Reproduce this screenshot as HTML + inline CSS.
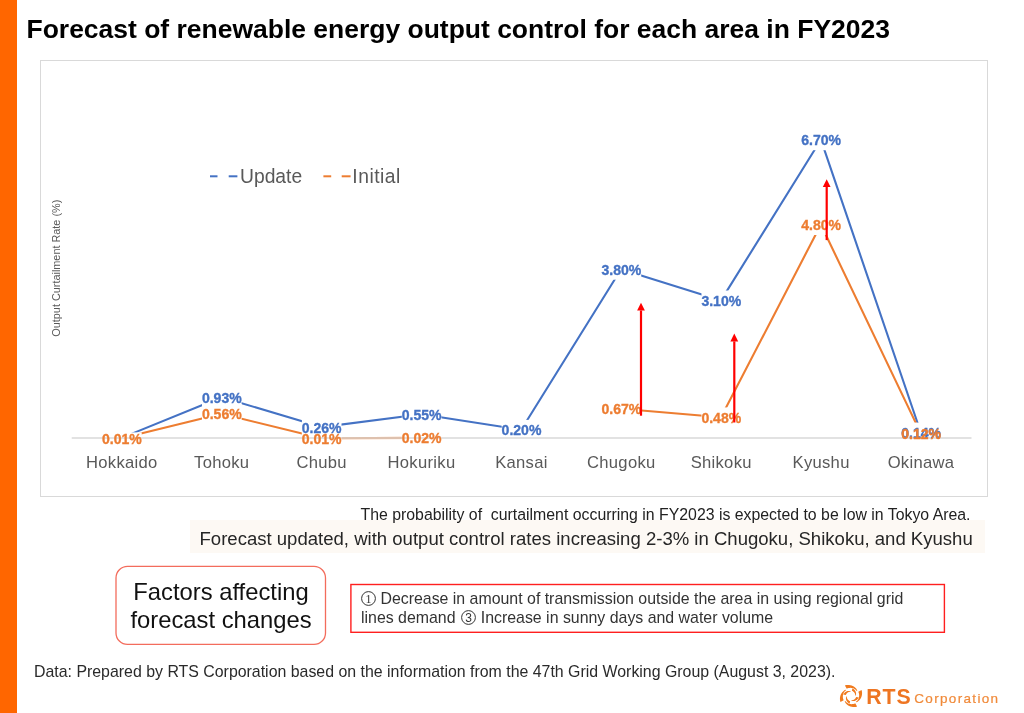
<!DOCTYPE html>
<html><head><meta charset="utf-8"><style>
html,body{margin:0;padding:0;width:1024px;height:713px;overflow:hidden;background:#fff;font-family:"Liberation Sans",sans-serif;}
#w{position:absolute;left:0;top:0;width:1024px;height:713px;will-change:transform;}
.a{position:absolute;white-space:pre;line-height:1;}
</style></head><body><div id="w">
<div class="a" style="left:0;top:0;width:17px;height:713px;background:#FF6600"></div>
<div class="a" style="left:40px;top:60px;width:946px;height:435px;border:1px solid #D9D9D9"></div>
<div class="a" style="left:26.5px;top:15.5px;font-size:26.48px;font-weight:bold;color:#000">Forecast of renewable energy output control for each area in FY2023</div>
<svg width="1024" height="713" style="position:absolute;left:0;top:0">
<polyline points="121.6,437.9 221.5,397.2 321.4,427.1 421.3,414.2 521.2,429.8 621.1,269.2 721.0,300.4 820.9,139.7 920.8,432.5" fill="none" stroke="#4472C4" stroke-width="2.1" stroke-linejoin="round"/>
<polyline points="121.6,438.3 221.5,413.8 321.4,438.3 421.3,437.9" fill="none" stroke="#ED7D31" stroke-width="2.1" stroke-linejoin="round"/>
<polyline points="621.1,408.8 721.0,417.3 820.9,224.5 920.8,433.4" fill="none" stroke="#ED7D31" stroke-width="2.1" stroke-linejoin="round"/>
<rect x="202.0" y="387.3" width="39.6" height="20.4" fill="#fff"/>
<rect x="301.9" y="417.2" width="39.6" height="20.4" fill="#fff"/>
<rect x="401.8" y="404.3" width="39.6" height="20.4" fill="#fff"/>
<rect x="501.7" y="419.9" width="39.6" height="20.4" fill="#fff"/>
<rect x="601.6" y="259.3" width="39.6" height="20.4" fill="#fff"/>
<rect x="701.5" y="290.5" width="39.6" height="20.4" fill="#fff"/>
<rect x="801.4" y="129.8" width="39.6" height="20.4" fill="#fff"/>
<rect x="901.3" y="422.6" width="39.6" height="20.4" fill="#fff"/>
<rect x="102.1" y="432.4" width="39.6" height="16.4" fill="#fff"/>
<rect x="202.0" y="403.9" width="39.6" height="20.4" fill="#fff"/>
<rect x="301.9" y="428.4" width="39.6" height="20.4" fill="#fff"/>
<rect x="401.8" y="428.0" width="39.6" height="20.4" fill="#fff"/>
<rect x="601.6" y="398.9" width="39.6" height="20.4" fill="#fff"/>
<rect x="701.5" y="407.4" width="39.6" height="20.4" fill="#fff"/>
<rect x="801.4" y="214.6" width="39.6" height="20.4" fill="#fff"/>
<rect x="901.3" y="423.5" width="39.6" height="20.4" fill="#fff"/>
<line x1="71.7" y1="438" x2="971.5" y2="438" stroke="#D9D9D9" stroke-width="1.3"/>
<text x="221.8" y="402.7" fill="#4472C4" text-anchor="middle" font-family="Liberation Sans" font-weight="bold" font-size="14.5" textLength="39.8" lengthAdjust="spacingAndGlyphs" stroke="#4472C4" stroke-width="0.35">0.93%</text>
<text x="321.7" y="432.6" fill="#4472C4" text-anchor="middle" font-family="Liberation Sans" font-weight="bold" font-size="14.5" textLength="39.8" lengthAdjust="spacingAndGlyphs" stroke="#4472C4" stroke-width="0.35">0.26%</text>
<text x="421.6" y="419.7" fill="#4472C4" text-anchor="middle" font-family="Liberation Sans" font-weight="bold" font-size="14.5" textLength="39.8" lengthAdjust="spacingAndGlyphs" stroke="#4472C4" stroke-width="0.35">0.55%</text>
<text x="521.5" y="435.3" fill="#4472C4" text-anchor="middle" font-family="Liberation Sans" font-weight="bold" font-size="14.5" textLength="39.8" lengthAdjust="spacingAndGlyphs" stroke="#4472C4" stroke-width="0.35">0.20%</text>
<text x="621.4" y="274.7" fill="#4472C4" text-anchor="middle" font-family="Liberation Sans" font-weight="bold" font-size="14.5" textLength="39.8" lengthAdjust="spacingAndGlyphs" stroke="#4472C4" stroke-width="0.35">3.80%</text>
<text x="721.3" y="305.9" fill="#4472C4" text-anchor="middle" font-family="Liberation Sans" font-weight="bold" font-size="14.5" textLength="39.8" lengthAdjust="spacingAndGlyphs" stroke="#4472C4" stroke-width="0.35">3.10%</text>
<text x="821.2" y="145.2" fill="#4472C4" text-anchor="middle" font-family="Liberation Sans" font-weight="bold" font-size="14.5" textLength="39.8" lengthAdjust="spacingAndGlyphs" stroke="#4472C4" stroke-width="0.35">6.70%</text>
<text x="921.1" y="438.0" fill="#4472C4" text-anchor="middle" font-family="Liberation Sans" font-weight="bold" font-size="14.5" textLength="39.8" lengthAdjust="spacingAndGlyphs" stroke="#4472C4" stroke-width="0.35">0.14%</text>
<text x="121.9" y="443.8" fill="#ED7D31" text-anchor="middle" font-family="Liberation Sans" font-weight="bold" font-size="14.5" textLength="39.8" lengthAdjust="spacingAndGlyphs" stroke="#ED7D31" stroke-width="0.35">0.01%</text>
<text x="221.8" y="419.3" fill="#ED7D31" text-anchor="middle" font-family="Liberation Sans" font-weight="bold" font-size="14.5" textLength="39.8" lengthAdjust="spacingAndGlyphs" stroke="#ED7D31" stroke-width="0.35">0.56%</text>
<text x="321.7" y="443.8" fill="#ED7D31" text-anchor="middle" font-family="Liberation Sans" font-weight="bold" font-size="14.5" textLength="39.8" lengthAdjust="spacingAndGlyphs" stroke="#ED7D31" stroke-width="0.35">0.01%</text>
<text x="421.6" y="443.4" fill="#ED7D31" text-anchor="middle" font-family="Liberation Sans" font-weight="bold" font-size="14.5" textLength="39.8" lengthAdjust="spacingAndGlyphs" stroke="#ED7D31" stroke-width="0.35">0.02%</text>
<text x="621.4" y="414.3" fill="#ED7D31" text-anchor="middle" font-family="Liberation Sans" font-weight="bold" font-size="14.5" textLength="39.8" lengthAdjust="spacingAndGlyphs" stroke="#ED7D31" stroke-width="0.35">0.67%</text>
<text x="721.3" y="422.8" fill="#ED7D31" text-anchor="middle" font-family="Liberation Sans" font-weight="bold" font-size="14.5" textLength="39.8" lengthAdjust="spacingAndGlyphs" stroke="#ED7D31" stroke-width="0.35">0.48%</text>
<text x="821.2" y="230.0" fill="#ED7D31" text-anchor="middle" font-family="Liberation Sans" font-weight="bold" font-size="14.5" textLength="39.8" lengthAdjust="spacingAndGlyphs" stroke="#ED7D31" stroke-width="0.35">4.80%</text>
<text x="921.1" y="438.9" fill="#ED7D31" text-anchor="middle" font-family="Liberation Sans" font-weight="bold" font-size="14.5" textLength="39.8" lengthAdjust="spacingAndGlyphs" stroke="#ED7D31" stroke-width="0.35">0.12%</text>
<text x="121.8" y="468" fill="#595959" text-anchor="middle" font-family="Liberation Sans" font-size="16.6" letter-spacing="0.3">Hokkaido</text>
<text x="221.7" y="468" fill="#595959" text-anchor="middle" font-family="Liberation Sans" font-size="16.6" letter-spacing="0.3">Tohoku</text>
<text x="321.6" y="468" fill="#595959" text-anchor="middle" font-family="Liberation Sans" font-size="16.6" letter-spacing="0.3">Chubu</text>
<text x="421.5" y="468" fill="#595959" text-anchor="middle" font-family="Liberation Sans" font-size="16.6" letter-spacing="0.3">Hokuriku</text>
<text x="521.4" y="468" fill="#595959" text-anchor="middle" font-family="Liberation Sans" font-size="16.6" letter-spacing="0.3">Kansai</text>
<text x="621.3" y="468" fill="#595959" text-anchor="middle" font-family="Liberation Sans" font-size="16.6" letter-spacing="0.3">Chugoku</text>
<text x="721.2" y="468" fill="#595959" text-anchor="middle" font-family="Liberation Sans" font-size="16.6" letter-spacing="0.3">Shikoku</text>
<text x="821.1" y="468" fill="#595959" text-anchor="middle" font-family="Liberation Sans" font-size="16.6" letter-spacing="0.3">Kyushu</text>
<text x="921.0" y="468" fill="#595959" text-anchor="middle" font-family="Liberation Sans" font-size="16.6" letter-spacing="0.3">Okinawa</text>
<line x1="641" y1="415.7" x2="641" y2="310.5" stroke="#FF0000" stroke-width="2.2"/><polygon points="641,302.8 637.1,310.5 644.9,310.5" fill="#FF0000"/>
<line x1="734.3" y1="422.5" x2="734.3" y2="341.4" stroke="#FF0000" stroke-width="2.2"/><polygon points="734.3,333.6 730.4,341.4 738.1999999999999,341.4" fill="#FF0000"/>
<line x1="826.7" y1="240.1" x2="826.7" y2="187" stroke="#FF0000" stroke-width="2.2"/><polygon points="826.7,179.2 822.8000000000001,187 830.6,187" fill="#FF0000"/>
<line x1="210" y1="176.3" x2="217.5" y2="176.3" stroke="#4472C4" stroke-width="2"/>
<line x1="228.7" y1="176.3" x2="237.4" y2="176.3" stroke="#4472C4" stroke-width="2"/>
<text x="240" y="183" fill="#595959" font-family="Liberation Sans" font-size="19.3" letter-spacing="0">Update</text>
<line x1="323.4" y1="176.3" x2="331.2" y2="176.3" stroke="#ED7D31" stroke-width="2"/>
<line x1="341.7" y1="176.3" x2="350.6" y2="176.3" stroke="#ED7D31" stroke-width="2"/>
<text x="352.3" y="183" fill="#595959" font-family="Liberation Sans" font-size="19.3" letter-spacing="0.5">Initial</text>
<text transform="translate(59.7,268.2) rotate(-90)" fill="#595959" text-anchor="middle" font-family="Liberation Sans" font-size="11.4" textLength="137" lengthAdjust="spacingAndGlyphs">Output Curtailment Rate (%)</text>
</svg>
<div class="a" style="left:190px;top:520px;width:795px;height:33px;background:#FDF9F4"></div>
<div class="a" style="left:360.5px;top:507px;font-size:15.85px;color:#222">The probability of  curtailment occurring in FY2023 is expected to be low in Tokyo Area.</div>
<div class="a" style="left:199.5px;top:529.5px;font-size:18.56px;color:#262626">Forecast updated, with output control rates increasing 2-3% in Chugoku, Shikoku, and Kyushu</div>
<svg class="a" style="left:0;top:0" width="1024" height="713"><rect x="116" y="566.4" width="209.5" height="78" rx="11.5" fill="none" stroke="#F36C5C" stroke-width="1.3"/><rect x="350.9" y="584.5" width="593.5" height="47.8" fill="none" stroke="#FF1F1F" stroke-width="1.4"/></svg>
<div class="a" style="left:115.5px;top:577.6px;width:211px;text-align:center;font-size:23.8px;line-height:28.4px;color:#111">Factors affecting
forecast changes</div>
<div class="a" style="left:361px;top:589px;font-size:15.9px;line-height:19.1px;color:#333"><svg width="15" height="15" viewBox="0 0 15 15" style="vertical-align:-1.6px;margin-left:0px;margin-right:0px"><circle cx="7.5" cy="7.5" r="6.9" fill="none" stroke="#333" stroke-width="1"/><text x="7.5" y="11.8" text-anchor="middle" font-family="Liberation Serif" font-size="12" fill="#333">1</text></svg> Decrease in amount of transmission outside the area in using regional grid
lines demand <svg width="15" height="15" viewBox="0 0 15 15" style="vertical-align:-1.6px;margin-left:0.8px;margin-right:0.6px"><circle cx="7.5" cy="7.5" r="6.9" fill="none" stroke="#333" stroke-width="1"/><text x="7.5" y="11.8" text-anchor="middle" font-family="Liberation Sans" font-size="12" fill="#333">3</text></svg> Increase in sunny days and water volume</div>
<div class="a" style="left:34px;top:664px;font-size:15.9px;color:#2a2a2a">Data: Prepared by RTS Corporation based on the information from the 47th Grid Working Group (August 3, 2023).</div>
<svg class="a" style="left:838.8px;top:684px" width="24" height="24" viewBox="-11.5 -11.5 23 23"><g fill="#F07A1E"><path d="M-5.85,-10.13 L-4.51,-10.45 L-3.17,-10.60 L-1.87,-10.59 L-0.61,-10.42 L0.59,-10.10 L1.70,-9.65 L2.72,-9.08 L3.63,-8.42 L4.43,-7.66 L5.10,-6.84 L5.64,-5.98 L6.05,-5.08 L5.59,-4.69 L5.06,-5.36 L4.44,-5.96 L3.75,-6.50 L3.00,-6.95 L2.19,-7.31 L1.34,-7.58 L0.45,-7.75 L-0.46,-7.82 L-1.37,-7.78 L-2.28,-7.63 L-3.18,-7.38 L-4.05,-7.01Z" transform="rotate(0)"/><path d="M1.32,-7.48 L2.06,-7.05 L2.71,-6.55 L3.29,-5.99 L3.78,-5.39 L4.17,-4.76 L4.48,-4.10 L4.69,-3.44 L4.82,-2.78 L4.86,-2.14 L4.82,-1.52 L4.71,-0.94 L4.53,-0.40 L4.03,-0.35 L4.05,-0.81 L4.01,-1.27 L3.92,-1.73 L3.78,-2.18 L3.59,-2.63 L3.34,-3.06 L3.04,-3.46 L2.69,-3.84 L2.29,-4.18 L1.85,-4.47 L1.38,-4.72 L0.87,-4.92Z" transform="rotate(0)"/><path d="M-5.85,-10.13 L-4.51,-10.45 L-3.17,-10.60 L-1.87,-10.59 L-0.61,-10.42 L0.59,-10.10 L1.70,-9.65 L2.72,-9.08 L3.63,-8.42 L4.43,-7.66 L5.10,-6.84 L5.64,-5.98 L6.05,-5.08 L5.59,-4.69 L5.06,-5.36 L4.44,-5.96 L3.75,-6.50 L3.00,-6.95 L2.19,-7.31 L1.34,-7.58 L0.45,-7.75 L-0.46,-7.82 L-1.37,-7.78 L-2.28,-7.63 L-3.18,-7.38 L-4.05,-7.01Z" transform="rotate(90)"/><path d="M1.32,-7.48 L2.06,-7.05 L2.71,-6.55 L3.29,-5.99 L3.78,-5.39 L4.17,-4.76 L4.48,-4.10 L4.69,-3.44 L4.82,-2.78 L4.86,-2.14 L4.82,-1.52 L4.71,-0.94 L4.53,-0.40 L4.03,-0.35 L4.05,-0.81 L4.01,-1.27 L3.92,-1.73 L3.78,-2.18 L3.59,-2.63 L3.34,-3.06 L3.04,-3.46 L2.69,-3.84 L2.29,-4.18 L1.85,-4.47 L1.38,-4.72 L0.87,-4.92Z" transform="rotate(90)"/><path d="M-5.85,-10.13 L-4.51,-10.45 L-3.17,-10.60 L-1.87,-10.59 L-0.61,-10.42 L0.59,-10.10 L1.70,-9.65 L2.72,-9.08 L3.63,-8.42 L4.43,-7.66 L5.10,-6.84 L5.64,-5.98 L6.05,-5.08 L5.59,-4.69 L5.06,-5.36 L4.44,-5.96 L3.75,-6.50 L3.00,-6.95 L2.19,-7.31 L1.34,-7.58 L0.45,-7.75 L-0.46,-7.82 L-1.37,-7.78 L-2.28,-7.63 L-3.18,-7.38 L-4.05,-7.01Z" transform="rotate(180)"/><path d="M1.32,-7.48 L2.06,-7.05 L2.71,-6.55 L3.29,-5.99 L3.78,-5.39 L4.17,-4.76 L4.48,-4.10 L4.69,-3.44 L4.82,-2.78 L4.86,-2.14 L4.82,-1.52 L4.71,-0.94 L4.53,-0.40 L4.03,-0.35 L4.05,-0.81 L4.01,-1.27 L3.92,-1.73 L3.78,-2.18 L3.59,-2.63 L3.34,-3.06 L3.04,-3.46 L2.69,-3.84 L2.29,-4.18 L1.85,-4.47 L1.38,-4.72 L0.87,-4.92Z" transform="rotate(180)"/><path d="M-5.85,-10.13 L-4.51,-10.45 L-3.17,-10.60 L-1.87,-10.59 L-0.61,-10.42 L0.59,-10.10 L1.70,-9.65 L2.72,-9.08 L3.63,-8.42 L4.43,-7.66 L5.10,-6.84 L5.64,-5.98 L6.05,-5.08 L5.59,-4.69 L5.06,-5.36 L4.44,-5.96 L3.75,-6.50 L3.00,-6.95 L2.19,-7.31 L1.34,-7.58 L0.45,-7.75 L-0.46,-7.82 L-1.37,-7.78 L-2.28,-7.63 L-3.18,-7.38 L-4.05,-7.01Z" transform="rotate(270)"/><path d="M1.32,-7.48 L2.06,-7.05 L2.71,-6.55 L3.29,-5.99 L3.78,-5.39 L4.17,-4.76 L4.48,-4.10 L4.69,-3.44 L4.82,-2.78 L4.86,-2.14 L4.82,-1.52 L4.71,-0.94 L4.53,-0.40 L4.03,-0.35 L4.05,-0.81 L4.01,-1.27 L3.92,-1.73 L3.78,-2.18 L3.59,-2.63 L3.34,-3.06 L3.04,-3.46 L2.69,-3.84 L2.29,-4.18 L1.85,-4.47 L1.38,-4.72 L0.87,-4.92Z" transform="rotate(270)"/></g></svg>
<div class="a" style="left:866.2px;top:686.6px;font-size:21.3px;font-weight:bold;color:#EE7522;letter-spacing:1.0px">RTS</div>
<div class="a" style="left:914.3px;top:691.5px;font-size:13.5px;color:#F08A3A;letter-spacing:1.32px;-webkit-text-stroke:0.2px #F08A3A">Corporation</div>
</div></body></html>
